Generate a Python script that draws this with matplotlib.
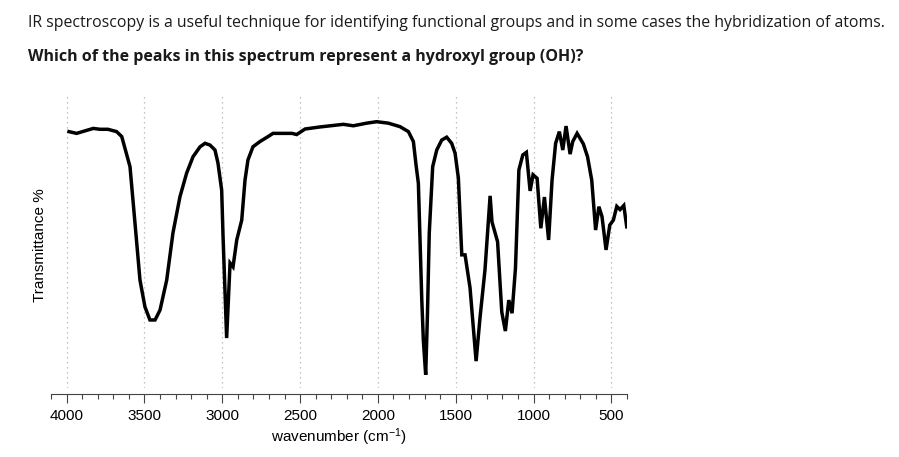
import matplotlib
matplotlib.use("Agg")
import matplotlib.pyplot as plt
from matplotlib.ticker import FixedLocator

# ---- data ----
wavenumber = [
    3985, 3936, 3829, 3786, 3735, 3679, 3646, 3593, 3561, 3529,
    3497, 3465, 3432, 3400, 3357, 3317, 3272, 3229, 3188, 3143,
    3111, 3079, 3047, 3028, 3004, 2995, 2972, 2950, 2931, 2907,
    2875, 2854, 2835, 2803, 2758, 2706, 2674, 2629, 2552, 2522,
    2468, 2372, 2222, 2158, 2072, 2008, 1933, 1858, 1804, 1772,
    1755, 1740, 1718, 1708, 1693, 1682, 1670, 1648, 1622, 1590,
    1558, 1526, 1504, 1483, 1461, 1440, 1408, 1369, 1344, 1312,
    1279, 1267, 1231, 1204, 1181, 1159, 1138, 1116, 1094, 1069,
    1046, 1022, 1003, 977, 953, 930, 903, 881, 858, 834,
    812, 791, 765, 748, 720, 680, 653, 626, 601, 580,
    560, 534, 510, 487, 465, 444, 420, 401,
]
transmittance = [
    87.8, 87.2, 88.9, 88.6, 88.6, 87.8, 86.1, 75.8, 56.5, 37.0,
    27.8, 23.3, 23.3, 26.7, 37.0, 53.1, 65.5, 73.6, 79.2, 82.6,
    83.8, 83.2, 81.5, 77.1, 67.8, 51.8, 17.1, 42.8, 41.5, 50.7,
    57.5, 71.2, 78.1, 82.6, 84.4, 86.1, 87.2, 87.2, 87.2, 86.8,
    88.7, 89.4, 90.3, 89.8, 90.7, 91.2, 90.7, 89.5, 87.8, 84.4,
    76.4, 70.1, 30.1, 16.4, 4.5, 24.4, 53.1, 75.8, 81.5, 84.9,
    85.9, 83.8, 80.4, 71.9, 45.6, 45.6, 34.3, 9.2, 24.0, 40.4,
    65.8, 56.9, 50.1, 26.0, 19.5, 30.1, 25.6, 41.1, 74.7, 79.8,
    80.7, 67.5, 73.0, 71.8, 54.7, 65.4, 50.7, 71.2, 83.8, 87.8,
    81.5, 89.7, 80.1, 84.4, 87.2, 83.6, 79.2, 71.2, 54.1, 62.1,
    58.7, 47.3, 55.8, 57.5, 62.2, 61.1, 62.5, 55.2,
]
major_ticks = [4000, 3500, 3000, 2500, 2000, 1500, 1000, 500]
tick_labels = ["4000", "3500", "3000", "2500", "2000", "1500", "1000", "500"]

title_line1 = ("IR spectroscopy is a useful technique for identifying functional "
               "groups and in some cases the hybridization of atoms.")
title_line2 = "Which of the peaks in this spectrum represent a hydroxyl group (OH)?"

W, H = 899, 457
fig = plt.figure(figsize=(W / 100, H / 100), dpi=100)
fig.patch.set_facecolor("white")

def px(x, y):
    return x / W, 1 - y / H

left, right, top, bottom = 51.1, 626.9, 96, 388
ax = fig.add_axes([left / W, 1 - bottom / H, (right - left) / W, (bottom - top) / H])
ax.set_xlim(4100, 400)
ax.set_ylim(0, 100)

for t in major_ticks:
    ax.axvline(t, color="#b0b0b0", lw=0.9, ls=(0, (1, 3)), zorder=0)

ax.plot(wavenumber, transmittance, color="black", lw=2.5,
        solid_joinstyle="miter", zorder=3)

for s in ["top", "right", "left"]:
    ax.spines[s].set_visible(False)
ax.spines["bottom"].set_position(("outward", 4.3))
ax.spines["bottom"].set_bounds(4100, 400)
ax.spines["bottom"].set_color("#444444")
ax.spines["bottom"].set_linewidth(0.8)

ax.xaxis.set_major_locator(FixedLocator(major_ticks))
ax.set_xticklabels(tick_labels, fontfamily="Liberation Sans", fontsize=11)
ax.xaxis.set_minor_locator(FixedLocator(list(range(4100, 399, -100))))
ax.tick_params(axis="x", which="major", direction="out", length=6.5,
               width=0.8, color="#444444", pad=4)
ax.tick_params(axis="x", which="minor", direction="out", length=3.6,
               width=0.8, color="#444444")
ax.set_yticks([])

fig.text(*px(338.5, 437), r"wavenumber (cm$\mathregular{^{-1}}$)",
         ha="center", va="center", fontfamily="Liberation Sans", fontsize=11)
fig.text(*px(40, 245), "Transmittance %", rotation=90, ha="center", va="center",
         fontfamily="Liberation Sans", fontsize=11)

fig.text(*px(28, 23), title_line1, ha="left", va="center",
         fontfamily="Open Sans", fontsize=11.45, color="#1a1a1a")
fig.text(*px(28, 57), title_line2, ha="left", va="center",
         fontfamily="Open Sans", fontweight="bold", fontsize=11.5, color="#1a1a1a")

fig.savefig("out.png", dpi=100, facecolor="white")
